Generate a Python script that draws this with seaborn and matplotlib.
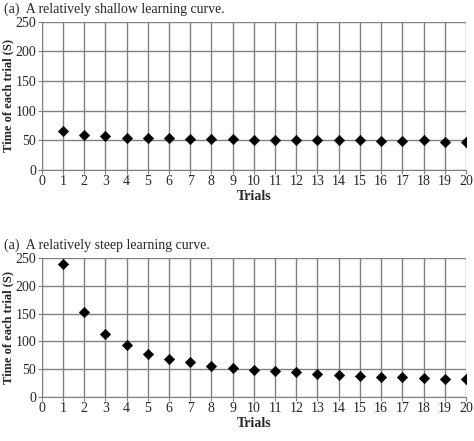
import matplotlib
matplotlib.use("Agg")
import matplotlib.pyplot as plt
import seaborn as sns
import pandas as pd

trials = list(range(1, 21))
shallow = [66, 58, 57, 53, 53, 53, 52, 52, 52, 51, 50, 51, 50, 50, 50, 48, 48, 50, 47, 47]
steep = [240, 153, 113, 93, 78, 69, 62, 56, 52, 49, 46, 44, 41, 39, 38, 36, 35, 34, 33, 32]
titles = ["(a)  A relatively shallow learning curve.", "(a)  A relatively steep learning curve."]

sns.set_style("white")
plt.rcParams['font.family'] = ['Liberation Serif', 'DejaVu Serif']

fig = plt.figure(figsize=(4.74, 4.41), dpi=100)
axes = [fig.add_axes([0.088, 0.615, 0.895, 0.336]), fig.add_axes([0.088, 0.10, 0.895, 0.315])]
for ax, vals, title in zip(axes, [shallow, steep], titles):
    df = pd.DataFrame({"Trials": trials, "Time": vals})
    sns.scatterplot(data=df, x="Trials", y="Time", ax=ax, marker="D", s=28, color="black", edgecolor="black", zorder=3)
    ax.set_xlim(0, 20)
    ax.set_ylim(0, 250)
    ax.set_xticks(range(0, 21))
    ax.set_yticks(range(0, 251, 50))
    ax.grid(True, color="#808080", linewidth=1)
    for s in ["top", "right"]:
        ax.spines[s].set_visible(False)
    for s in ["left", "bottom"]:
        ax.spines[s].set_color("#808080")
    ax.tick_params(labelsize=10, length=3, color="#808080", direction="out", left=True, bottom=True, pad=1)
    ax.set_xlabel("Trials", fontsize=10, fontweight="bold", labelpad=1)
    ax.set_ylabel("Time of each trial (S)", fontsize=9, fontweight="bold", labelpad=1)
    ax.text(-0.088, 1.04, title, transform=ax.transAxes, fontsize=10, ha="left", va="bottom")
fig.savefig("out.png", dpi=100)
